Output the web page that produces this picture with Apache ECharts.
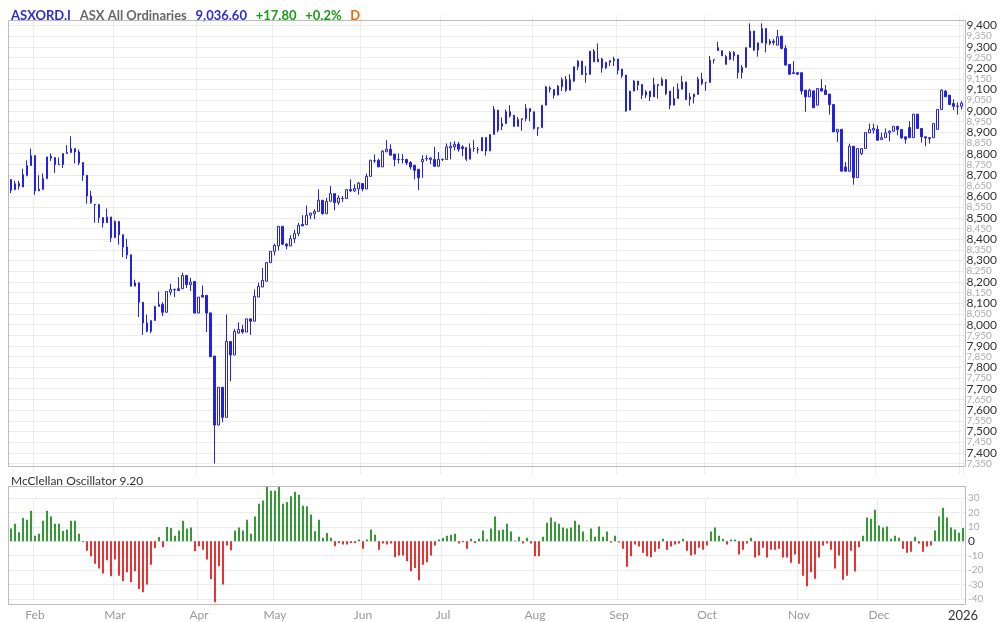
<!DOCTYPE html>
<html>
<head>
<meta charset="utf-8">
<script src="https://cdn.jsdelivr.net/npm/echarts@6/dist/echarts.min.js"></script>
<style>
html,body{margin:0;padding:0;background:#fff;}
#main{width:1000px;height:622px;}
</style>
</head>
<body>
<div id="main"></div>
<script>
// daily bars [open, high, low, close]
var candles = [
[8679,8679,8616,8629],[8632,8673,8629,8660],[8660,8673,8632,8648],[8644,8730,8644,8702],[8698,8769,8694,8744],
[8744,8824,8744,8791],[8791,8791,8607,8626],[8634,8699,8626,8626],[8632,8707,8632,8683],[8683,8785,8683,8785],
[8788,8801,8766,8780],[8782,8782,8710,8749],[8750,8782,8748,8748],[8749,8801,8733,8801],[8805,8840,8801,8801],
[8805,8882,8805,8824],[8824,8824,8754,8808],[8808,8819,8746,8757],[8759,8759,8673,8699],[8699,8699,8566,8602],
[8602,8626,8566,8571],[8562,8562,8477,8560],[8562,8562,8476,8501],[8501,8501,8454,8476],[8477,8543,8477,8504],
[8504,8504,8387,8407],[8407,8488,8407,8483],[8483,8483,8374,8421],[8421,8421,8316,8363],[8363,8402,8308,8327],
[8327,8327,8180,8180],[8180,8210,8180,8196],[8196,8196,8035,8105],[8105,8105,7952,8008],[8008,8047,7965,7969],
[7969,8022,7960,8019],[8019,8088,8019,8085],[8085,8155,8085,8094],[8094,8105,8040,8058],[8058,8155,8058,8155],
[8152,8191,8137,8165],[8165,8168,8129,8163],[8168,8222,8160,8160],[8168,8243,8168,8230],[8230,8230,8171,8187],
[8187,8219,8157,8199],[8202,8202,8054,8054],[8054,8129,8054,8129],[8137,8183,8129,8129],[8137,8137,7965,8054],
[8055,8055,7848,7850],[7853,7853,7350,7530],[7530,7707,7530,7707],[7707,7707,7543,7566],[7566,8047,7566,7921],
[7921,7921,7735,7858],[7858,7980,7858,7968],[7961,8011,7957,7977],[7977,7999,7957,7965],[7965,8027,7965,8027],
[8027,8027,7952,8016],[8016,8164,8016,8132],[8129,8196,8129,8179],[8176,8265,8176,8207],[8203,8293,8203,8290],
[8290,8343,8290,8343],[8343,8379,8324,8371],[8368,8460,8347,8460],[8460,8460,8376,8376],[8376,8383,8352,8368],
[8368,8418,8368,8402],[8402,8444,8382,8426],[8426,8476,8415,8465],[8469,8512,8462,8462],[8467,8558,8467,8512],
[8512,8522,8494,8522],[8519,8540,8494,8530],[8530,8633,8530,8582],[8582,8582,8515,8519],[8519,8593,8519,8577],
[8577,8648,8577,8613],[8613,8613,8535,8571],[8571,8605,8561,8593],[8590,8602,8574,8590],[8590,8632,8590,8632],
[8632,8680,8621,8626],[8626,8657,8621,8637],[8635,8668,8608,8663],[8660,8660,8624,8635],[8635,8707,8635,8694],
[8694,8772,8694,8769],[8767,8796,8757,8766],[8769,8777,8738,8738],[8738,8816,8738,8812],[8809,8863,8809,8821],
[8821,8844,8793,8793],[8798,8798,8741,8773],[8773,8801,8754,8772],[8772,8798,8754,8773],[8773,8777,8746,8757],
[8759,8765,8726,8738],[8746,8746,8680,8722],[8727,8727,8629,8687],[8762,8793,8687,8773],[8776,8793,8766,8777],
[8773,8785,8751,8780],[8773,8832,8741,8741],[8741,8808,8741,8773],[8773,8776,8766,8774],[8773,8848,8773,8832],
[8827,8855,8774,8835],[8832,8858,8816,8844],[8844,8855,8809,8821],[8832,8840,8788,8824],[8829,8829,8766,8774],
[8774,8848,8774,8824],[8826,8863,8809,8824],[8821,8832,8801,8819],[8813,8876,8813,8876],[8876,8876,8790,8813],
[8813,8890,8813,8890],[8890,9023,8890,9007],[9004,9004,8900,8910],[8928,8969,8910,8941],[8941,9007,8941,8996],
[8996,9027,8969,8977],[8980,8980,8925,8928],[8928,8972,8928,8960],[8964,8964,8907,8960],[8964,9032,8952,9011],
[9011,9011,8952,8996],[8996,8996,8913,8918],[8922,8922,8883,8918],[8922,9027,8922,9027],[9027,9116,9027,9113],
[9108,9116,9086,9102],[9100,9100,9058,9074],[9074,9121,9074,9116],[9113,9157,9093,9147],[9147,9163,9089,9097],
[9097,9172,9097,9147],[9140,9207,9136,9207],[9207,9238,9191,9233],[9233,9233,9168,9171],[9175,9210,9132,9171],
[9171,9280,9171,9280],[9280,9290,9230,9230],[9230,9316,9230,9243],[9243,9249,9179,9202],[9202,9230,9196,9227],
[9227,9238,9210,9235],[9235,9254,9210,9243],[9243,9243,9171,9191],[9196,9196,9155,9165],[9168,9168,8996,9000],
[9004,9093,9004,9093],[9093,9144,9093,9140],[9140,9140,9097,9121],[9124,9124,9055,9074],[9074,9097,9061,9090],
[9093,9093,9046,9066],[9066,9155,9066,9124],[9124,9124,9058,9119],[9119,9157,9119,9147],[9147,9147,9074,9082],
[9093,9093,9008,9027],[9027,9113,9027,9058],[9058,9129,9058,9102],[9102,9163,9102,9136],[9136,9136,9050,9054],
[9054,9085,9024,9066],[9066,9079,9035,9079],[9077,9160,9077,9149],[9149,9179,9121,9129],[9134,9134,9094,9133],
[9133,9257,9133,9238],[9240,9240,9222,9238],[9282,9324,9282,9297],[9282,9282,9258,9258],[9254,9262,9218,9218],
[9241,9280,9238,9274],[9274,9280,9235,9258],[9262,9262,9152,9180],[9180,9215,9152,9204],[9204,9297,9204,9297],
[9297,9410,9297,9374],[9374,9374,9282,9285],[9285,9319,9254,9319],[9319,9410,9319,9386],[9386,9386,9274,9316],
[9316,9336,9308,9327],[9326,9336,9308,9321],[9308,9379,9308,9347],[9350,9350,9288,9293],[9293,9308,9211,9215],
[9218,9218,9168,9172],[9179,9233,9175,9175],[9179,9180,9168,9172],[9179,9179,9077,9093],[9097,9097,8996,9066],
[9066,9105,9066,9097],[9094,9094,9015,9015],[9027,9105,9027,9105],[9105,9149,9093,9093],[9097,9121,9077,9077],
[9079,9079,8983,9030],[9030,9030,8902,8902],[8902,8914,8855,8914],[8914,8914,8718,8718],[8738,8761,8718,8718],
[8718,8847,8718,8835],[8835,8835,8655,8688],[8688,8824,8688,8824],[8800,8824,8793,8824],[8824,8899,8824,8899],
[8897,8941,8897,8913],[8910,8941,8894,8918],[8914,8933,8863,8863],[8866,8899,8866,8875],[8875,8918,8875,8897],
[8897,8910,8858,8905],[8905,8928,8905,8928],[8928,8928,8886,8913],[8913,8913,8871,8874],[8879,8879,8847,8868],
[8922,8952,8875,8875],[8875,8985,8875,8985],[8985,8985,8918,8918],[8918,8918,8852,8879],[8879,8879,8835,8874],
[8875,8875,8847,8871],[8875,8941,8875,8941],[8914,9007,8914,9007],[9007,9102,9007,9097],[9093,9097,9066,9066],
[9074,9074,9027,9030],[9035,9054,9004,9022],[9023,9040,8983,9022],[9022,9046,9007,9036.6]
];

var oscillator = [
8.8,12.2,6.2,16.2,15,21.2,3.9,5.3,14.3,21.2,17.1,12.2,12.2,7.2,8.1,14.3,14.3,5.3,-0.5,-6.5,
-10.4,-15.5,-18.9,-22.4,-13.2,-24.2,-12.7,-23.8,-27.7,-21.5,
-28.4,-20.8,-33,-35.3,-30,-16.2,-4.6,3,-4.2,9.9,
9.2,3.9,7.4,14.3,8.8,9.5,-6.9,-3.5,-5.8,-12.7,
-26.1,-42.3,-17.3,-30,-3,-6.2,7.4,9.5,7.4,15,
5.3,17.1,26.1,28.2,37.9,35.1,35.1,37.9,26.1,27.3,
31.2,34.4,32.3,24.7,24.2,18.5,6.9,15,2.5,5.8,
2.5,-3.5,-1.2,-2.3,-2.3,-1.2,-1.2,1.2,-5.1,1.2,
8.1,4.6,-5.8,-1.6,-2.3,-1.6,-11.1,-9.9,-9.9,-13.9,
-20.8,-18.5,-27,-16.2,-14.5,-9.9,-3,1.2,2.3,3.9,
4.6,5.3,-1.6,-0.7,-5.1,1.8,-1.2,1.8,7.4,1.2,
8.8,17.1,7.6,
8.1,12.2,6.7,0.5,3.2,-1.6,2.5,-1.6,-10.4,-10.4,
3.2,12.9,16.4,13.6,12.2,9.5,8.8,9.5,14.3,11.5,
6.7,0.5,8.8,3.2,10.2,3.2,6.7,-0.9,3.9,-0.9,
-5.1,-17.6,-10.4,-2.3,-3.7,-7.9,-10.4,-11.1,-7.2,-5.1,
1.8,-5.8,-3.7,-2.3,-1.6,1.8,-6.5,-9.9,-9.2,-4.4,
-5.8,-3,6.7,9.5,3.9,1.8,-2.3,1.2,1.2,-9.2,
-5.8,-1.6,2.5,-11.3,-9.9,-4.4,-11.3,-5.8,-5.8,-5.1,
-11.3,-11.3,-14.8,-9.2,-15.5,-23.8,-31.2,-21.5,-25.9,-11.3,
-3,-1.6,-5.8,-18.9,-9.9,-26.6,-23.8,-6.5,-21,-4.2,
3.9,16.4,15.7,21.9,10.9,9.5,10.2,1.8,3.9,2.5,
-5.1,-7.9,-7.2,3.2,-1.6,-7.2,-3.7,-3,7.4,17.1,
23.3,16.4,9.5,8.1,6,9.2
];

var holidays = ['2025-01-27','2025-04-18','2025-04-21','2025-04-25','2025-06-09','2025-12-25','2025-12-26','2026-01-01'];
var monthNames = ['Jan','Feb','Mar','Apr','May','Jun','Jul','Aug','Sep','Oct','Nov','Dec'];

// trading days
var dates = [];
var d = new Date(Date.UTC(2025,0,23));
var end = new Date(Date.UTC(2026,0,2));
while (d <= end) {
	var s = d.toISOString().slice(0,10);
	var wd = d.getUTCDay();
	if (wd !== 0 && wd !== 6 && holidays.indexOf(s) < 0) dates.push(s);
	d.setUTCDate(d.getUTCDate()+1);
}

function monthStart(i) {
	return i > 0 && dates[i].slice(5,7) !== dates[i-1].slice(5,7);
}

var blue = '#2222e0';
var kData = candles.map(function (c) { return [c[0], c[3], c[2], c[1]]; });
var oscData = oscillator.map(function (v) {
	return { value: v, itemStyle: { color: v >= 0 ? '#008000' : '#dd0000' } };
});

function fmt(v) {
	return v.toLocaleString('en-US');
}

// price axis padded by one step each side; the padding lines/labels are blanked
var priceMin = 7300, priceMax = 9450;
var gridColors = [];
for (var k = 0; k < (priceMax - priceMin) / 50; k++) gridColors.push(k === 0 ? 'rgba(0,0,0,0)' : '#ececec');

var myChart = echarts.init(document.getElementById('main'));
var option = {
	animation: false,
	textStyle: { fontFamily: 'Lato' },
	title: [{
		left: 6, top: 2,
		text: '{a|ASXORD.I}  {b|ASX All Ordinaries}  {a|9,036.60}  {c|+17.80}  {c|+0.2%}  {d|D}',
		textStyle: {
			rich: {
				a: { color: '#2b2bd0', fontSize: 13, fontFamily: 'Lato' },
				b: { color: '#666', fontSize: 13, fontFamily: 'Lato' },
				c: { color: '#1a9a1a', fontSize: 13, fontFamily: 'Lato' },
				d: { color: '#e07010', fontSize: 13, fontFamily: 'Lato' }
			}
		}
	}, {
		left: 6, top: 470,
		text: 'McClellan Oscillator 9.20',
		textStyle: { color: '#333', fontSize: 12, fontWeight: 'normal', fontFamily: 'Lato' }
	}],
	graphic: [
		{ type: 'rect', shape: { x: 8.5, y: 20.5, width: 957, height: 446 }, style: { fill: 'none', stroke: '#bbb', lineWidth: 1 }, z: 100 },
		{ type: 'rect', shape: { x: 8.5, y: 486.5, width: 957, height: 118 }, style: { fill: 'none', stroke: '#bbb', lineWidth: 1 }, z: 100 }
	],
	grid: [
		{ left: 9, right: 35, top: 14.8, bottom: 622 - 474.2 },
		{ left: 9, right: 35, top: 498, bottom: 622 - 600 }
	],
	xAxis: [{
		type: 'category', gridIndex: 0, data: dates,
		axisLine: { show: false }, axisTick: { show: false }, axisLabel: { show: false },
		splitLine: { show: true, interval: function (i) { return monthStart(i); }, lineStyle: { color: '#ececec' } }
	}, {
		type: 'category', gridIndex: 1, data: dates,
		axisLine: { show: false },
		axisTick: { show: false },
		splitLine: { show: true, interval: function (i) { return monthStart(i); }, lineStyle: { color: '#ececec' } },
		axisLabel: {
			interval: function (i) { return monthStart(i); },
			margin: 10,
			formatter: function (v) {
				var m = +v.slice(5,7);
				if (m === 1) return '{y|' + v.slice(0,4) + '}';
				return monthNames[m-1];
			},
			color: '#999', fontSize: 12,
			rich: { y: { color: '#333', fontSize: 13, fontFamily: 'Lato' } }
		}
	}],
	yAxis: [{
		type: 'value', gridIndex: 0, position: 'right',
		min: priceMin, max: priceMax, interval: 50,
		axisLine: { show: false }, axisTick: { show: false },
		splitLine: { lineStyle: { color: gridColors } },
		axisLabel: {
			margin: 3, showMinLabel: false, showMaxLabel: false,
			formatter: function (v) {
				if (v === priceMin || v === priceMax) return '';
				return v % 100 === 0 ? '{a|' + fmt(v) + '}' : '{b|' + fmt(v) + '}';
			},
			rich: {
				a: { color: '#333', fontSize: 12, fontFamily: 'Lato' },
				b: { color: '#aaa', fontSize: 10, fontFamily: 'Lato' }
			}
		}
	}, {
		type: 'value', gridIndex: 1, position: 'right',
		min: -40, max: 30, interval: 10,
		axisLine: { show: false }, axisTick: { show: false },
		splitLine: { lineStyle: { color: '#ececec' } },
		axisLabel: {
			margin: 3, showMinLabel: true, showMaxLabel: true,
			formatter: function (v) { return v === 0 ? '{a|0}' : '{b|' + v + '}'; },
			rich: {
				a: { color: '#333', fontSize: 12, fontFamily: 'Lato' },
				b: { color: '#aaa', fontSize: 10, fontFamily: 'Lato' }
			}
		}
	}],
	series: [{
		type: 'candlestick', xAxisIndex: 0, yAxisIndex: 0,
		data: kData, barMaxWidth: 3,
		itemStyle: { color: '#fff', color0: blue, borderColor: blue, borderColor0: blue, borderWidth: 1 }
	}, {
		type: 'bar', xAxisIndex: 1, yAxisIndex: 1,
		data: oscData, barWidth: 1.6, clip: false
	}]
};
option && myChart.setOption(option);
</script>
</body>
</html>
